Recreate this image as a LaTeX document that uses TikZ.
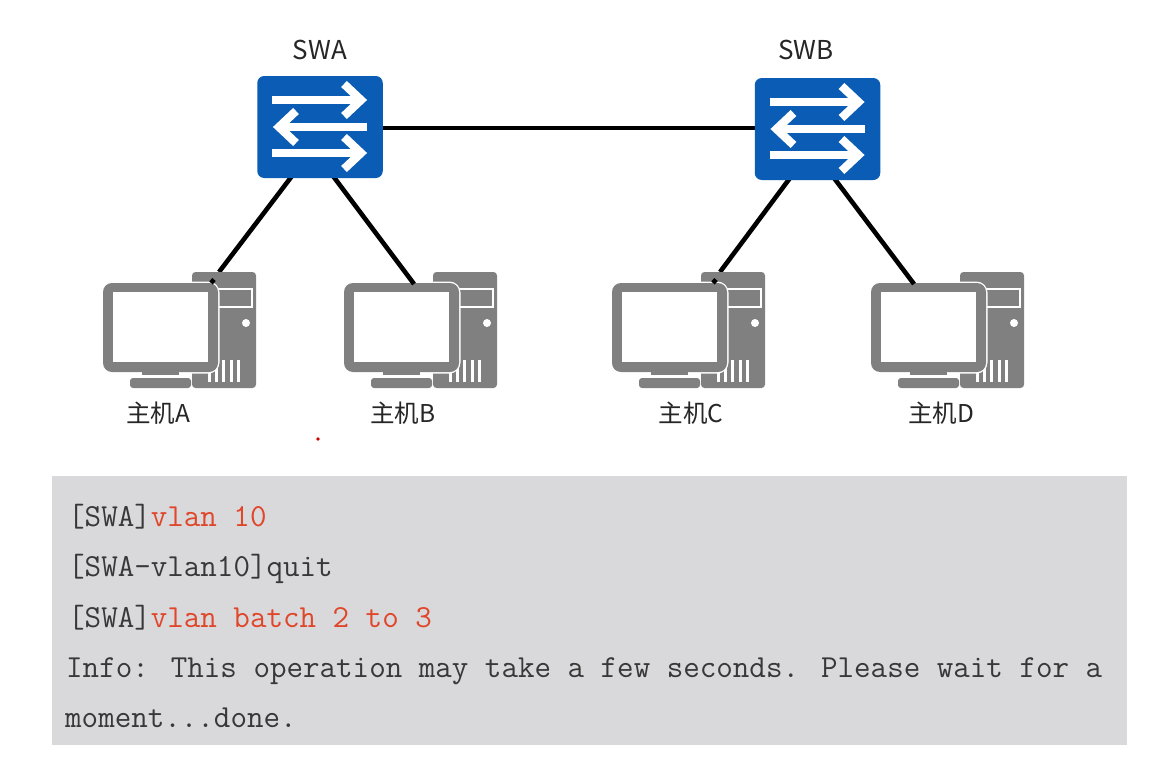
\documentclass[tikz,border=0pt]{standalone}
\usepackage{fontspec}
\setmainfont{Noto Sans CJK SC}
\newfontfamily\codefont{Latin Modern Mono}
\definecolor{swblue}{HTML}{0B5CB5}
\definecolor{pcgray}{HTML}{808080}
\definecolor{panelgray}{HTML}{D9D9DB}
\definecolor{codetext}{HTML}{383838}
\definecolor{codered}{HTML}{E0462A}
\tikzset{
  switchbox/.style={fill=swblue,rounded corners=7,minimum width=125.5,minimum height=102,inner sep=0,draw=none},
  swarrow/.style={draw=white,line width=8.3,line join=miter},
  link/.style={draw=black,line width=4.6},
  pcfill/.style={fill=pcgray,draw=none},
  pcline/.style={draw=white,line width=3},
  swlabel/.style={font=\fontsize{26}{30}\selectfont,text=black!85,inner sep=0},
  pclabel/.style={font=\fontsize{24.5}{28}\selectfont,text=black!85,inner sep=0},
  code/.style={anchor=base west,inner sep=0,font=\codefont\fontsize{32.1}{36}\selectfont,text=codetext},
}
\newcommand{\switchicon}[3]{%
  \node[switchbox] (#1) at (#2,#3) {};
  \begin{scope}[shift={(#2,#3)}]
    \draw[swarrow] (-48,-27) -- (40,-27);
    \draw[swarrow] (24,-43) -- (41,-27) -- (24,-11);
    \draw[swarrow] (47,0) -- (-40,0);
    \draw[swarrow] (-24,-16) -- (-41,0) -- (-24,16);
    \draw[swarrow] (-48,26) -- (40,26);
    \draw[swarrow] (24,10) -- (41,26) -- (24,42);
  \end{scope}}
\newcommand{\hosticon}[1]{%
  \begin{scope}[shift={(#1,0)}]
    \fill[pcfill,rounded corners=3.5] (192,272) rectangle (256,388);
    \draw[draw=white,line width=1.8] (216,289) rectangle (252,307);
    \fill[white] (246,323) circle (4);
    \foreach \sx in {209,216,223,231,238} \draw[pcline] (\sx,360) -- (\sx,382);
    \fill[white,rounded corners=11] (101.5,281.5) rectangle (219.5,373.5);
    \fill[pcfill,rounded corners=9] (103,283) rectangle (218,372);
    \fill[white] (113,292) rectangle (208,362);
    \fill[pcfill] (142,372) rectangle (179,375);
    \fill[white] (128,375.5) rectangle (192,378);
    \fill[pcfill,rounded corners=3] (130,378) rectangle (191,388);
  \end{scope}}
\begin{document}
\begin{tikzpicture}[x=1pt,y=-1pt]
\useasboundingbox (0,0) rectangle (1166,776);
\fill[white] (0,0) rectangle (1166,776);
% ports
\coordinate (aS) at (292,176);
\coordinate (bS) at (333,176);
\coordinate (cS) at (790,178);
\coordinate (dS) at (834,178);
\coordinate (pA) at (219,272);
\coordinate (pB) at (414,284);
\coordinate (pC) at (720,272);
\coordinate (pD) at (914,284);
\coordinate (aR) at (380,128);
\coordinate (bL) at (757,128);
\coordinate (sA1) at (214,279.5);
\coordinate (sA2) at (211,283);
\coordinate (sC1) at (716,279.5);
\coordinate (sC2) at (713,283);
\draw[link] (aR) -- (bL);
\draw[link] (aS) -- (pA);
\draw[link] (cS) -- (pC);
\hosticon{0}
\hosticon{241}
\hosticon{509}
\hosticon{768}
\draw[link] (bS) -- (pB);
\draw[link] (dS) -- (pD);
\draw[link] (sA1) -- (sA2);
\draw[link] (sC1) -- (sC2);
\switchicon{SWA}{320}{127}
\switchicon{SWB}{817.5}{129}
\node[swlabel] (lSWA) at (320,49.5) {SWA};
\node[swlabel] (lSWB) at (806,49.5) {SWB};
\node[pclabel] (hA) at (158,413.5) {主机A};
\node[pclabel] (hB) at (403,413.5) {主机B};
\node[pclabel] (hC) at (691,413.5) {主机C};
\node[pclabel] (hD) at (941,413.5) {主机D};
\fill[red!80!black] (318,439) circle (1.8);
\fill[panelgray] (52,476) rectangle (1127,745);
\node[code] (c1) at (68,526) {[SWA]\textcolor{codered}{vlan 10}};
\node[code] (c2) at (68,576) {[SWA-vlan10]quit};
\node[code] (c3) at (68,627) {[SWA]\textcolor{codered}{vlan batch 2 to 3}};
\node[code] (c4) at (66,677) {Info: This operation may take a few seconds. Please wait for a};
\node[code] (c5) at (65,727) {moment...done.};
\end{tikzpicture}
\end{document}
